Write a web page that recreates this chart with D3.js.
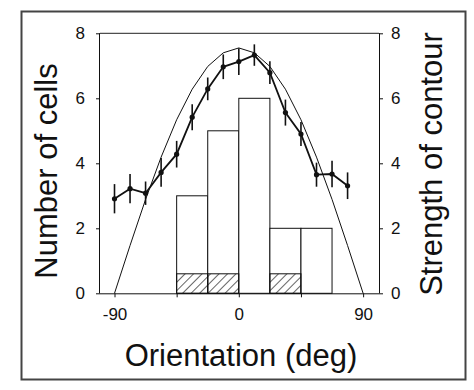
<!DOCTYPE html>
<html>
<head>
<meta charset="utf-8">
<script src="https://cdn.jsdelivr.net/npm/d3@7"></script>
<style>
  body { margin: 0; background: #fff; }
  svg { display: block; font-family: "Liberation Sans", Arial, sans-serif; }
</style>
</head>
<body>
<svg id="chart" width="474" height="390"></svg>
<script>
// histogram bins (deg) and cell counts
var binEdges = [-45, -22.5, 0, 22.5, 45, 67.5];
var cellCounts = [3, 5, 6, 2, 2];
var hatchCounts = [0.6, 0.6, 0, 0.6, 0];

// measured contour strength with error bars
var orient = [-90, -78.75, -67.5, -56.25, -45, -33.75, -22.5, -11.25, 0, 11.25, 22.5, 33.75, 45, 56.25, 67.5, 78.75];
var strength = [2.91, 3.22, 3.08, 3.72, 4.28, 5.42, 6.29, 6.97, 7.13, 7.33, 6.79, 5.56, 4.9, 3.65, 3.67, 3.31];
var strengthErr = [0.45, 0.45, 0.36, 0.44, 0.41, 0.4, 0.35, 0.38, 0.41, 0.33, 0.35, 0.4, 0.37, 0.37, 0.41, 0.41];

// fitted curve
var fitOrient = [-90, -78.75, -67.5, -56.25, -45, -33.75, -22.5, -11.25, 0, 11.25, 22.5, 33.75, 45, 56.25, 67.5, 78.75, 90];
var fitValue = [0, 1.47, 2.89, 4.19, 5.34, 6.28, 6.98, 7.40, 7.55, 7.40, 6.98, 6.28, 5.34, 4.19, 2.89, 1.47, 0];

var xTicks = [-90, -45, 0, 45, 90];
var xLabels = {"-90": "-90", "0": "0", "90": "90"};
var yTicks = [0, 2, 4, 6, 8];

drawChart();

function drawChart(){
  var svg = d3.select("#chart");
  var pLeft = 100, pRight = 379, pTop = 33.3, pBottom = 293.3;

  var x = d3.scaleLinear().domain([-100.5, 101.5]).range([pLeft, pRight]);
  var y = d3.scaleLinear().domain([0, 8]).range([pBottom, pTop]);

  // outer frame
  svg.append("rect")
    .attr("x", 21.5).attr("y", 11.5).attr("width", 444).attr("height", 368)
    .attr("fill", "none").attr("stroke", "#444").attr("stroke-width", 2);

  // hatch pattern
  var pat = svg.append("defs").append("pattern").attr("id", "hatch")
    .attr("patternUnits", "userSpaceOnUse").attr("width", 6).attr("height", 6)
    .attr("patternTransform", "rotate(45)");
  pat.append("line").attr("x1", 0).attr("y1", 0).attr("x2", 0).attr("y2", 6)
    .attr("stroke", "#111").attr("stroke-width", 1.3);

  // bars
  var bins = cellCounts.map(function(c, i){ return {x0: binEdges[i], x1: binEdges[i+1], n: c, h: hatchCounts[i]}; });
  svg.selectAll(".bar").data(bins).enter().append("rect")
    .attr("x", function(d){ return x(d.x0); })
    .attr("width", function(d){ return x(d.x1) - x(d.x0); })
    .attr("y", function(d){ return y(d.n); })
    .attr("height", function(d){ return y(0) - y(d.n); })
    .attr("fill", "#fff").attr("stroke", "#111").attr("stroke-width", 1);

  svg.selectAll(".hatch").data(bins.filter(function(d){ return d.h > 0; })).enter().append("rect")
    .attr("x", function(d){ return x(d.x0); })
    .attr("width", function(d){ return x(d.x1) - x(d.x0); })
    .attr("y", function(d){ return y(d.h); })
    .attr("height", function(d){ return y(0) - y(d.h); })
    .attr("fill", "url(#hatch)").attr("stroke", "#111").attr("stroke-width", 1);

  // fitted curve
  var line = d3.line().x(function(d){ return x(d[0]); }).y(function(d){ return y(d[1]); });
  svg.append("path")
    .attr("d", line(d3.zip(fitOrient, fitValue)))
    .attr("fill", "none").attr("stroke", "#111").attr("stroke-width", 1);

  // error bars
  var pts = orient.map(function(o, i){ return {o: o, v: strength[i], e: strengthErr[i]}; });
  svg.selectAll(".err").data(pts).enter().append("line")
    .attr("x1", function(d){ return x(d.o); }).attr("x2", function(d){ return x(d.o); })
    .attr("y1", function(d){ return y(d.v - d.e); }).attr("y2", function(d){ return y(d.v + d.e); })
    .attr("stroke", "#111").attr("stroke-width", 1.6);

  svg.append("path")
    .attr("d", line(d3.zip(orient, strength)))
    .attr("fill", "none").attr("stroke", "#111").attr("stroke-width", 1.8);

  svg.selectAll(".pt").data(pts).enter().append("circle")
    .attr("cx", function(d){ return x(d.o); }).attr("cy", function(d){ return y(d.v); })
    .attr("r", 2.6).attr("fill", "#111");

  // plot box top edge
  svg.append("line").attr("x1", pLeft).attr("x2", pRight).attr("y1", pTop).attr("y2", pTop)
    .attr("stroke", "#222").attr("stroke-width", 1);

  // axes
  var xAxis = d3.axisBottom(x).tickValues(xTicks).tickSize(4).tickPadding(11)
    .tickFormat(function(d){ return xLabels[d] || ""; });
  var gx = svg.append("g").attr("transform", "translate(0," + pBottom + ")").call(xAxis);
  var gyl = svg.append("g").attr("transform", "translate(" + pLeft + ",0)")
    .call(d3.axisLeft(y).tickValues(yTicks).tickSize(4).tickPadding(11));
  var gyr = svg.append("g").attr("transform", "translate(" + pRight + ",0)")
    .call(d3.axisRight(y).tickValues(yTicks).tickSize(4).tickPadding(8));

  [gx, gyl, gyr].forEach(function(g){
    g.attr("font-size", 17).attr("font-family", "Liberation Sans, Arial, sans-serif");
    g.select(".domain").attr("stroke", "#111");
    g.selectAll(".tick line").attr("stroke", "#111");
    g.selectAll("text").attr("fill", "#111");
  });
  gx.select(".domain").attr("d", "M" + pLeft + ",0.5H" + pRight);
  gyl.select(".domain").attr("d", "M-0.5," + pTop + "V" + pBottom);
  gyr.select(".domain").attr("d", "M0.5," + pTop + "V" + pBottom);

  // axis titles
  svg.append("text").attr("x", 241).attr("y", 366)
    .attr("text-anchor", "middle").attr("font-size", 31).attr("fill", "#111")
    .text("Orientation (deg)");
  svg.append("text").attr("transform", "translate(57,171) rotate(-90)")
    .attr("text-anchor", "middle").attr("font-size", 31).attr("fill", "#111")
    .text("Number of cells");
  svg.append("text").attr("transform", "translate(442,164) rotate(-90)")
    .attr("text-anchor", "middle").attr("font-size", 31).attr("fill", "#111")
    .text("Strength of contour");
}
</script>
</body>
</html>
